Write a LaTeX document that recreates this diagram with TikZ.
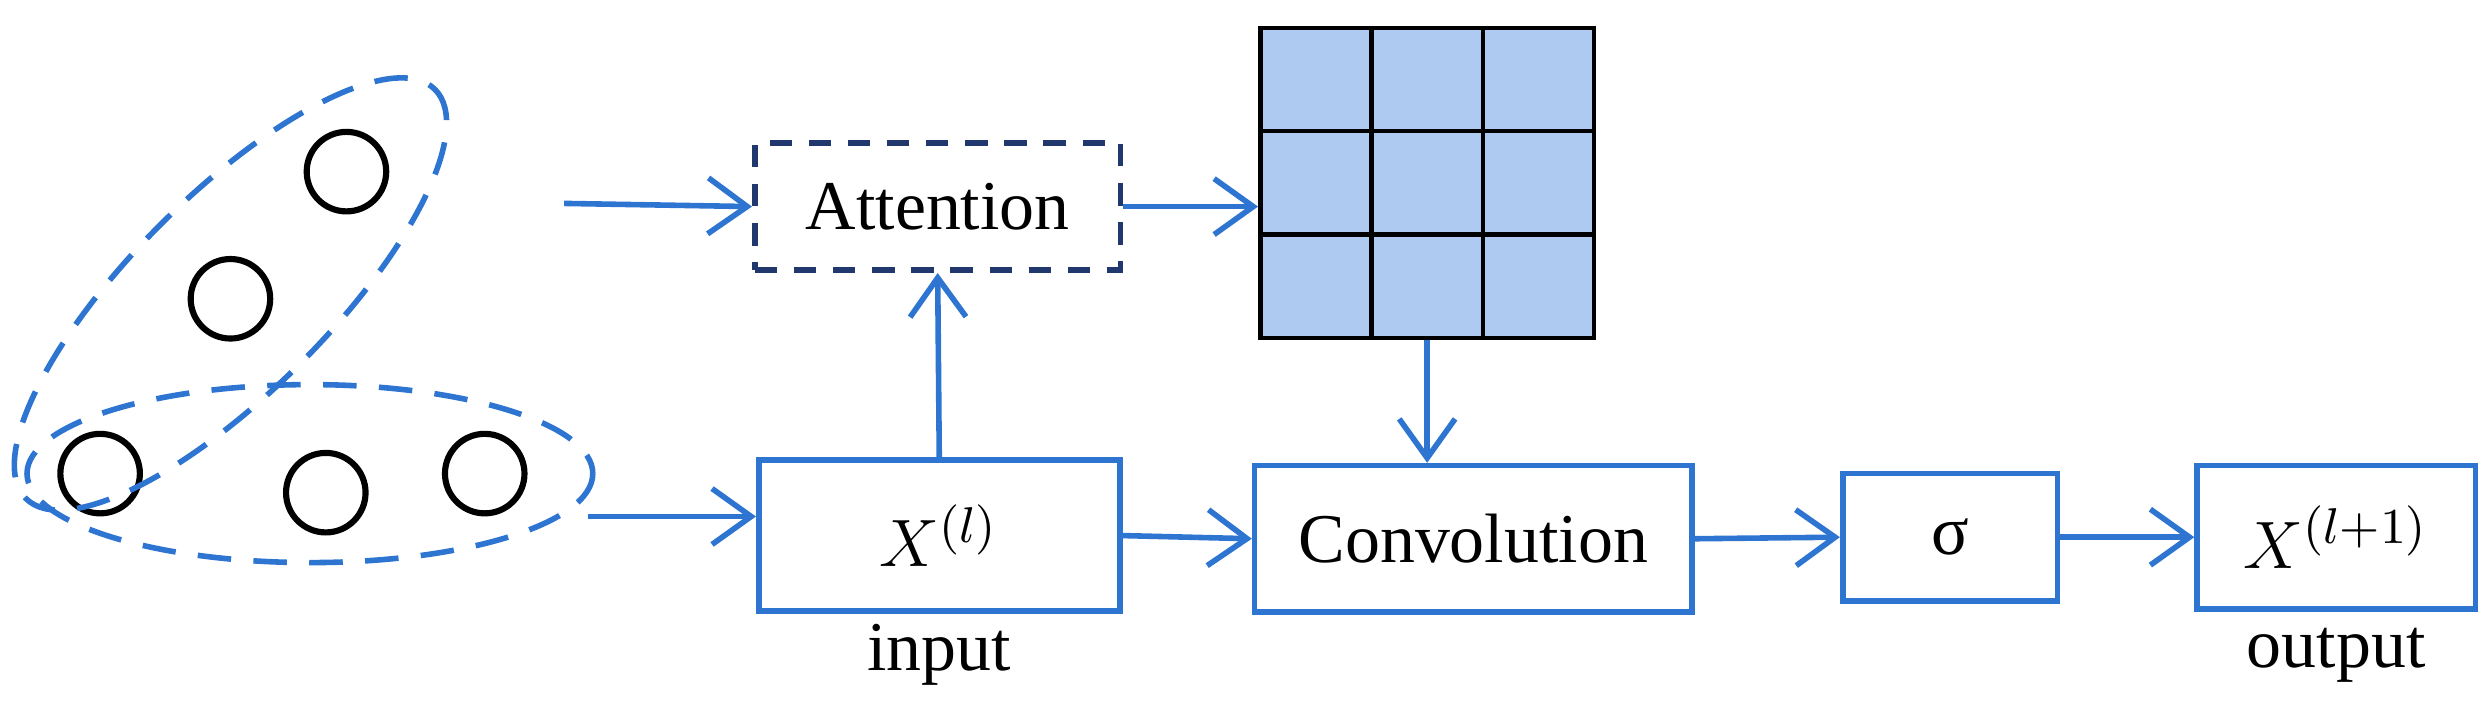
\documentclass[tikz,border=0pt]{standalone}
\usepackage{fontspec}
\setmainfont{Liberation Serif}
\usetikzlibrary{arrows.meta}
\definecolor{bl}{RGB}{46,117,210}
\definecolor{dbl}{RGB}{32,56,110}
\definecolor{gf}{RGB}{175,202,240}
\begin{document}
\begin{tikzpicture}[x=0.01cm,y=-0.01cm,
  box/.style={draw=bl,line width=1pt,minimum width=#1,inner sep=0pt,font=\fontsize{12.5}{15}\selectfont},
  arr/.style={draw=bl,line width=1pt,-{Straight Barb[length=7pt,width=10pt]}},
  circ/.style={draw=black,line width=1.1pt,circle,minimum size=0.5cm,inner sep=0pt},
  ell/.style={draw=bl,line width=1pt,dash pattern=on 6pt off 4pt}]
\useasboundingbox (0,0) rectangle (1568,452);
\node[circ] (c1) at (218,108) {};
\node[circ] (c2) at (145,188) {};
\node[circ] (c3) at (63,298) {};
\node[circ] (c4) at (205,310) {};
\node[circ] (c5) at (305,298) {};
\draw[ell] (145,185) ellipse[x radius=182,y radius=62,rotate=45];
\draw[ell] (195,298) ellipse[x radius=178,y radius=56];
\node[box=2.3cm,minimum height=0.8cm,draw=dbl,dash pattern=on 4pt off 3pt] (att) at (590,130) {Attention};
\foreach \i in {0,1,2}\foreach \j in {0,1,2}
  \node[draw=black,fill=gf,line width=0.8pt,minimum width=0.7cm,minimum height=0.65cm,inner sep=0pt] (g\i\j) at (828+\i*70,50+\j*65) {};
\node[box=2.27cm,minimum height=0.95cm] (x) at (591,337) {$X^{(l)}$};
\node[font=\fontsize{12.5}{15}\selectfont] (in) at (591,412) {input};
\node[box=2.75cm,minimum height=0.92cm] (conv) at (927,339) {Convolution};
\node[box=1.35cm,minimum height=0.8cm] (sig) at (1227,338) {σ};
\node[box=1.75cm,minimum height=0.9cm] (out) at (1470,338) {$X^{(l+1)}$};
\node[font=\fontsize{12.5}{15}\selectfont] (outl) at (1470,412) {output};
\coordinate (s1) at (355,128);
\coordinate (s2) at (370,325);
\draw[arr] (s1) -- (att.west);
\draw[arr] (att.east) -- (g01.west |- att.east);
\draw[arr] (g12.south) -- (conv.north -| g12.south);
\draw[arr] (x.north) -- (att.south);
\draw[arr] (s2) -- (x.west |- s2);
\draw[arr] (x.east) -- (conv.west);
\draw[arr] (conv.east) -- (sig.west);
\draw[arr] (sig.east) -- (out.west);
\end{tikzpicture}
\end{document}
